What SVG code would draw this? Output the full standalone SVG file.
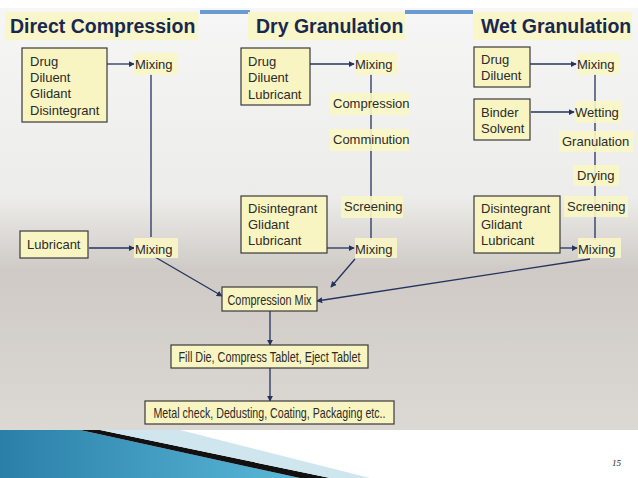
<svg xmlns="http://www.w3.org/2000/svg" width="638" height="478" viewBox="0 0 638 478">
<style>
.t{font-family:"Liberation Sans",Arial,sans-serif;font-size:13px;fill:#2b2b2b}
.b{font-size:14.5px}
.h{font-family:"Liberation Sans",Arial,sans-serif;font-size:19.5px;font-weight:bold;fill:#1a2850}
.box{fill:#f9f5c2;stroke:#3a3a3a;stroke-width:1.2}
.hl{fill:#f9f6c4;opacity:0.9}
.c{stroke:#24345f;stroke-width:1.3;fill:none}
.a{stroke:#24345f;stroke-width:1.3;fill:none;marker-end:url(#ar)}
</style>
<defs>
<marker id="ar" viewBox="0 0 8 8" refX="7" refY="4" markerWidth="6" markerHeight="6" markerUnits="userSpaceOnUse" orient="auto"><path d="M0,0L8,4L0,8z" fill="#24345f"/></marker>
<linearGradient id="bg" x1="0" y1="0" x2="0" y2="1">
<stop offset="0" stop-color="#f6f6f6"/><stop offset="0.45" stop-color="#ececea"/><stop offset="0.62" stop-color="#cfcac6"/><stop offset="1" stop-color="#dcd8d4"/></linearGradient>
<linearGradient id="sw" x1="0" y1="0" x2="1" y2="0"><stop offset="0" stop-color="#2a7fa8"/><stop offset="1" stop-color="#5ab8d8"/></linearGradient>
</defs>
<rect width="638" height="478" fill="#fff"/>
<rect x="0" y="8" width="638" height="422" fill="url(#bg)"/>
<rect x="200" y="10" width="50" height="4" fill="#6a9ad0"/>
<rect x="405" y="10" width="68" height="4" fill="#6a9ad0"/>
<path d="M0,430 L80,430 L300,478 L0,478z" fill="url(#sw)"/>
<path d="M80,430 L100,430 L330,478 L300,478z" fill="#111"/>
<path d="M100,430 L180,430 L370,478 L330,478z" fill="#cfe6ee"/>
<text x="612" y="466" font-family="Liberation Serif,serif" font-style="italic" font-size="9" fill="#222">15</text>

<g id="titles">
<rect class="hl" x="5" y="12" width="193" height="28"/><text class="h" x="10" y="33">Direct Compression</text>
<rect class="hl" x="248" y="12" width="157" height="28"/><text class="h" x="256" y="33">Dry Granulation</text>
<rect class="hl" x="473" y="12" width="159" height="28"/><text class="h" x="481" y="33">Wet Granulation</text>
</g>

<g id="connectors">
<path class="a" d="M104,64H134"/>
<path class="c" d="M151,74V237"/>
<path class="a" d="M89,248H134"/>
<path class="a" d="M155,257L222,296"/>
<path class="a" d="M310,64H354"/>
<path class="c" d="M371,74V240"/>
<path class="a" d="M327,248H354"/>
<path class="a" d="M355,259L331,287"/>
<path class="a" d="M530,64H576"/>
<path class="a" d="M531,112H574"/>
<path class="c" d="M595,74V240"/>
<path class="a" d="M555,248H577"/>
<path class="a" d="M590,259L317,301"/>
<path class="a" d="M270,311V345"/>
<path class="a" d="M270,368V401"/>
</g>

<g id="dc-inputs"><rect class="box" x="22" y="48" width="85" height="74"/><text class="t" x="30" y="66">Drug</text><text class="t" x="30" y="82">Diluent</text><text class="t" x="30" y="98">Glidant</text><text class="t" x="30" y="115">Disintegrant</text></g>
<g id="dc-mixing1"><rect class="hl" x="134" y="53" width="44" height="22"/><text class="t" x="135" y="69">Mixing</text></g>
<g id="dc-lubricant"><rect class="box" x="20" y="231" width="68" height="27"/><text class="t" x="27" y="249">Lubricant</text></g>
<g id="dc-mixing2"><rect class="hl" x="134" y="238" width="44" height="20"/><text class="t" x="135" y="254">Mixing</text></g>

<g id="dg-inputs"><rect class="box" x="241" y="48" width="69" height="57"/><text class="t" x="248" y="66">Drug</text><text class="t" x="248" y="82">Diluent</text><text class="t" x="248" y="99">Lubricant</text></g>
<g id="dg-mixing1"><rect class="hl" x="355" y="53" width="42" height="22"/><text class="t" x="355" y="69">Mixing</text></g>
<g id="dg-compression"><rect class="hl" x="330" y="93" width="80" height="22"/><text class="t" x="333" y="108">Compression</text></g>
<g id="dg-comminution"><rect class="hl" x="330" y="129" width="79" height="22"/><text class="t" x="333" y="144">Comminution</text></g>
<g id="dg-screening"><rect class="hl" x="341" y="196" width="62" height="22"/><text class="t" x="344" y="211">Screening</text></g>
<g id="dg-additives"><rect class="box" x="241" y="196" width="86" height="57"/><text class="t" x="248" y="213">Disintegrant</text><text class="t" x="248" y="229">Glidant</text><text class="t" x="248" y="245">Lubricant</text></g>
<g id="dg-mixing2"><rect class="hl" x="355" y="238" width="42" height="20"/><text class="t" x="355" y="254">Mixing</text></g>

<g id="wg-inputs"><rect class="box" x="474" y="47" width="56" height="40"/><text class="t" x="481" y="64">Drug</text><text class="t" x="481" y="80">Diluent</text></g>
<g id="wg-mixing"><rect class="hl" x="577" y="53" width="43" height="22"/><text class="t" x="577" y="69">Mixing</text></g>
<g id="wg-binder"><rect class="box" x="474" y="99" width="56" height="41"/><text class="t" x="481" y="117">Binder</text><text class="t" x="481" y="133">Solvent</text></g>
<g id="wg-wetting"><rect class="hl" x="575" y="101" width="47" height="22"/><text class="t" x="575" y="117">Wetting</text></g>
<g id="wg-granulation"><rect class="hl" x="559" y="131" width="74" height="21"/><text class="t" x="562" y="146">Granulation</text></g>
<g id="wg-drying"><rect class="hl" x="573" y="165" width="46" height="21"/><text class="t" x="577" y="180">Drying</text></g>
<g id="wg-screening"><rect class="hl" x="564" y="196" width="64" height="21"/><text class="t" x="567" y="211">Screening</text></g>
<g id="wg-additives"><rect class="box" x="474" y="196" width="86" height="57"/><text class="t" x="481" y="213">Disintegrant</text><text class="t" x="481" y="229">Glidant</text><text class="t" x="481" y="245">Lubricant</text></g>
<g id="wg-mixing2"><rect class="hl" x="578" y="238" width="43" height="20"/><text class="t" x="578" y="254">Mixing</text></g>

<g id="compression-mix"><rect class="box" x="222" y="287" width="95" height="24"/><text class="t b" x="269.5" y="304.5" text-anchor="middle" textLength="84" lengthAdjust="spacingAndGlyphs">Compression Mix</text></g>
<g id="fill-die"><rect class="box" x="171" y="345" width="197" height="23"/><text class="t b" x="269.5" y="361.5" text-anchor="middle" textLength="182" lengthAdjust="spacingAndGlyphs">Fill Die, Compress Tablet, Eject Tablet</text></g>
<g id="metal-check"><rect class="box" x="145" y="401" width="249" height="23"/><text class="t b" x="269.5" y="418" text-anchor="middle" textLength="232" lengthAdjust="spacingAndGlyphs">Metal check, Dedusting, Coating, Packaging etc..</text></g>
</svg>
